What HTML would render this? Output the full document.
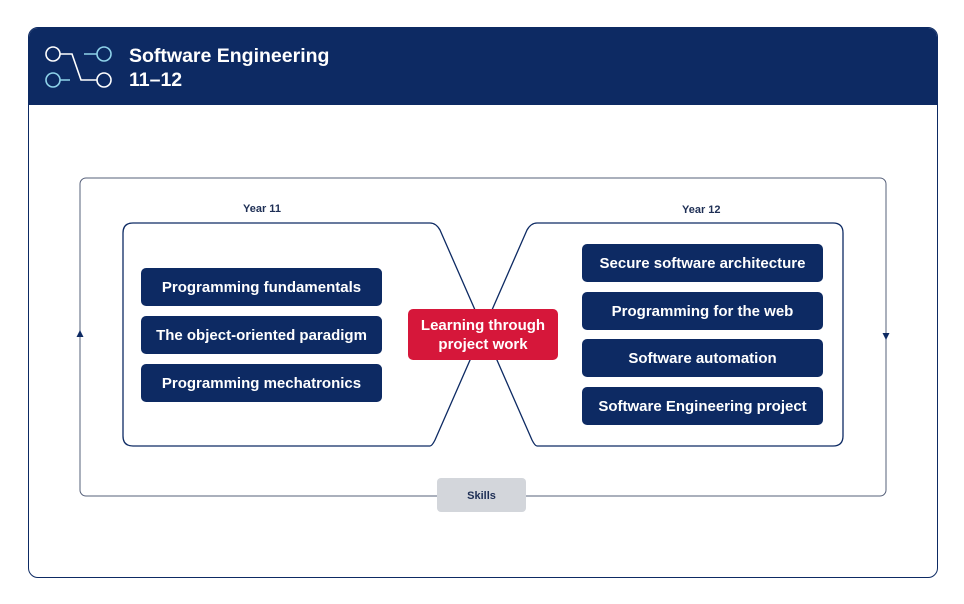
<!DOCTYPE html>
<html><head><style>
body{margin:0;width:964px;height:604px;background:#fff;font-family:"Liberation Sans",sans-serif;position:relative;overflow:hidden}
.card{position:absolute;left:28px;top:27px;width:908px;height:549px;border:1.5px solid #0d2a63;border-radius:10px;overflow:hidden}
.hdr{position:absolute;left:0;top:0;right:0;height:77px;background:#0d2a63}
.title{position:absolute;left:100px;top:16px;color:#fff;font-weight:bold;font-size:19.5px;line-height:24px}
.pill{position:absolute;background:#0d2a63;color:#fff;font-weight:bold;font-size:15px;border-radius:5px;display:flex;align-items:center;justify-content:center;text-align:center}
.lbl{position:absolute;font-size:11px;font-weight:bold;color:#1e2f55}
</style></head><body>
<div class="card"><div class="hdr">
<svg width="100" height="77" style="position:absolute;left:0;top:0">
<g fill="none" stroke-width="1.6">
<circle cx="24" cy="26" r="7" stroke="#fff"/><circle cx="75" cy="26" r="7" stroke="#8fd3ea"/>
<circle cx="24" cy="52" r="7" stroke="#8fd3ea"/><circle cx="75" cy="52" r="7" stroke="#fff"/>
<path d="M31 26H43L52 52H68" stroke="#fff"/><path d="M55 26H68" stroke="#8fd3ea"/><path d="M31 52H41" stroke="#8fd3ea"/>
</g></svg>
<div class="title">Software Engineering<br>11–12</div></div></div>
<svg width="964" height="604" style="position:absolute;left:0;top:0">
<g fill="none" stroke="#0d2a63" stroke-width="1.3">
<rect x="80" y="178" width="806" height="318" rx="6" stroke="#56607a" stroke-width="1"/>
<path d="M430 223H133Q123 223 123 233V436Q123 446 133 446H430"/>
<path d="M537 223H833Q843 223 843 233V436Q843 446 833 446H537"/>
<path d="M430 223Q436 223 440 230L532 440Q535 446 537 446"/>
<path d="M537 223Q531 223 527 230L435 440Q432 446 430 446"/>
</g>
<path d="M80 330l-3.5 7h7z" fill="#0d2a63"/>
<path d="M886 340l-3.5 -7h7z" fill="#0d2a63"/>
<rect x="437" y="478" width="89" height="34" rx="4" fill="#d3d6db"/>
<text x="481.5" y="499" text-anchor="middle" font-size="11" font-weight="bold" fill="#1e2f55" font-family="Liberation Sans">Skills</text>
</svg>
<div class="lbl" style="left:243px;top:203px">Year 11</div>
<div class="lbl" style="left:682px;top:204px">Year 12</div>
<div class="pill" style="left:141px;top:268px;width:241px;height:38px">Programming fundamentals</div>
<div class="pill" style="left:141px;top:316px;width:241px;height:38px">The object-oriented paradigm</div>
<div class="pill" style="left:141px;top:364px;width:241px;height:38px">Programming mechatronics</div>
<div class="pill" style="left:582px;top:244px;width:241px;height:38px">Secure software architecture</div>
<div class="pill" style="left:582px;top:292px;width:241px;height:38px">Programming for the web</div>
<div class="pill" style="left:582px;top:339px;width:241px;height:38px">Software automation</div>
<div class="pill" style="left:582px;top:387px;width:241px;height:38px">Software Engineering project</div>
<div class="pill" style="left:408px;top:309px;width:150px;height:51px;background:#d6173a;line-height:19px">Learning through<br>project work</div>
</body></html>
